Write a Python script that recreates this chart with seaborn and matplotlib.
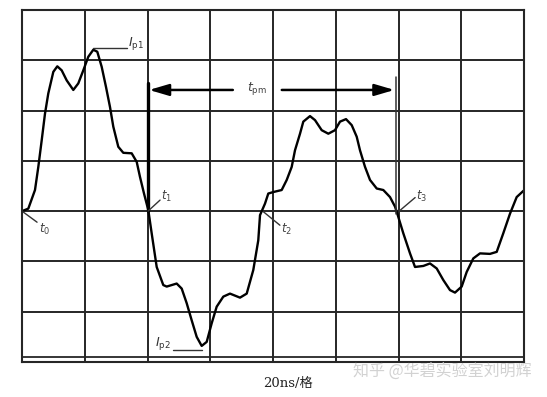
import numpy as np
import pandas as pd
import matplotlib
matplotlib.use("Agg")
import matplotlib.pyplot as plt
import seaborn as sns

# ---- data (time in ns, amplitude in grid divisions) ----
time_ns = [0.0, 2.01, 4.14, 5.20, 6.28, 7.33, 8.38, 9.98, 11.25, 12.65, 14.25,
           16.35, 17.94, 19.54, 21.13, 22.73, 24.00, 25.40, 26.77, 28.05, 29.10,
           30.69, 32.29, 34.96, 36.56, 37.61, 38.89, 40.26,
           41.33, 42.93, 45.03, 46.12, 49.30, 50.90, 52.49, 54.08, 55.68, 57.27,
           58.87, 60.46, 62.05, 64.16, 66.29, 69.48, 71.62, 73.72, 75.31,
           75.86, 77.45, 78.50, 80.10, 82.77, 84.37, 85.96, 87.01, 88.61, 89.66,
           91.79, 93.39, 95.52, 97.63, 99.76, 101.36, 103.27, 105.09, 106.68,
           107.73, 109.33, 110.92, 113.06, 115.16, 117.29, 118.89, 119.62,
           121.53, 123.67, 125.26, 127.91, 130.04, 132.18, 134.28,
           136.41, 138.01, 140.14, 141.73, 143.84, 145.98, 149.16, 151.30, 153.40,
           155.54, 157.67, 160.10]
amplitude = [0.0, 0.05, 0.42, 0.88, 1.41, 1.94, 2.34, 2.77, 2.88, 2.80, 2.60,
             2.41, 2.54, 2.80, 3.07, 3.21, 3.17, 2.87, 2.47, 2.07, 1.68,
             1.28, 1.16, 1.15, 0.98, 0.68, 0.35, 0.02,
             -0.44, -1.11, -1.47, -1.50, -1.44, -1.54, -1.83, -2.17, -2.50, -2.68,
             -2.60, -2.23, -1.90, -1.70, -1.64, -1.72, -1.64, -1.17, -0.58,
             -0.08, 0.15, 0.35, 0.38, 0.42, 0.62, 0.88, 1.21, 1.54, 1.78,
             1.89, 1.81, 1.61, 1.54, 1.61, 1.78, 1.83, 1.71, 1.48,
             1.21, 0.88, 0.62, 0.45, 0.42, 0.28, 0.09, -0.05,
             -0.44, -0.84, -1.11, -1.09, -1.04, -1.14, -1.37,
             -1.57, -1.62, -1.50, -1.21, -0.94, -0.84, -0.85, -0.81, -0.44,
             -0.05, 0.28, 0.42]

x_ticks = [0, 20, 40, 60, 80, 100, 120, 140, 160]
y_ticks = [-3, -2, -1, 0, 1, 2, 3, 4]

marker_labels = [r"$t_0$", r"$t_1$", r"$t_2$", r"$t_3$"]
peak_labels = [r"$I_{\rm p1}$", r"$I_{\rm p2}$"]
pm_label = r"$t_{\rm pm}$"
axis_caption = "20ns/格"
watermark = "知乎 @华碧实验室刘明辉"

df = pd.DataFrame({"time_ns": time_ns, "amplitude": amplitude})

sns.set_style("white")
plt.rcParams["font.family"] = ["DejaVu Sans", "Noto Sans CJK SC"]
plt.rcParams["mathtext.fontset"] = "dejavusans"

fig = plt.figure(figsize=(5.47, 3.97), dpi=100)
ax = fig.add_axes([22 / 547, 35 / 397, 502 / 547, 352 / 397])

grid_c = "#262626"
ax.set_xlim(0, 160)
ax.set_ylim(-3, 4)
ax.set_xticks(x_ticks)
ax.set_yticks(y_ticks)
ax.grid(True, color=grid_c, lw=1.4)
ax.tick_params(length=0, labelbottom=False, labelleft=False)
for s in ax.spines.values():
    s.set_color(grid_c)
    s.set_linewidth(1.5)
ax.axhline(-2.91, color=grid_c, lw=1.3)

sns.lineplot(data=df, x="time_ns", y="amplitude", color="black", lw=1.7,
             ax=ax, sort=False, legend=False, solid_joinstyle="round",
             solid_capstyle="round")
ax.set_xlabel("")
ax.set_ylabel("")

# marker vertical lines
ax.plot([40.16, 40.16], [0.0, 2.54], color="black", lw=2.4)
ax.plot([119.2, 119.2], [-0.05, 2.66], color="#333333", lw=1.1)

# arrows
ap = dict(arrowstyle="-|>,head_length=0.85,head_width=0.25", color="black",
          lw=1.8, mutation_scale=14, shrinkA=0, shrinkB=0)
ax.annotate("", xy=(40.5, 2.41), xytext=(67.2, 2.41), arrowprops=ap)
ax.annotate("", xy=(118.7, 2.41), xytext=(82.8, 2.41), arrowprops=ap)
ax.text(75.0, 2.43, pm_label, fontsize=9, color="#444444", ha="center", va="center")

tc = "#444444"
# Ip1
ax.plot([22.6, 33.5], [3.24, 3.24], color="#333333", lw=1.0)
ax.text(33.8, 3.34, peak_labels[0], fontsize=9, color="#333333", ha="left", va="center")
# Ip2
ax.plot([48.1, 57.4], [-2.76, -2.76], color="#333333", lw=1.0)
ax.text(44.8, -2.63, peak_labels[1], fontsize=9, color="#333333", ha="center", va="center")

# t markers
lc = "#333333"
ax.plot([0.0, 4.8], [0.0, -0.22], color=lc, lw=1.0)
ax.text(5.3, -0.36, marker_labels[0], fontsize=8.5, color=tc, ha="left", va="center")
ax.plot([40.16, 44.0], [0.0, 0.22], color=lc, lw=1.0)
ax.text(44.2, 0.30, marker_labels[1], fontsize=8.5, color=tc, ha="left", va="center")
ax.plot([76.9, 82.2], [-0.01, -0.28], color=lc, lw=1.0)
ax.text(82.6, -0.36, marker_labels[2], fontsize=8.5, color=tc, ha="left", va="center")
ax.plot([120.2, 125.3], [0.0, 0.27], color=lc, lw=1.0)
ax.text(125.6, 0.30, marker_labels[3], fontsize=8.5, color=tc, ha="left", va="center")

fig.text(0.526, 0.035, axis_caption, fontsize=9.5, color="#222222",
         family=["DejaVu Serif", "Noto Sans CJK SC"], ha="center", va="center")
fig.text(0.808, 0.063, watermark, fontsize=11.5, color="#d2d2d2",
         family=["Noto Sans CJK SC", "DejaVu Sans"], ha="center", va="center")

fig.savefig("out.png", dpi=100, facecolor="white")
